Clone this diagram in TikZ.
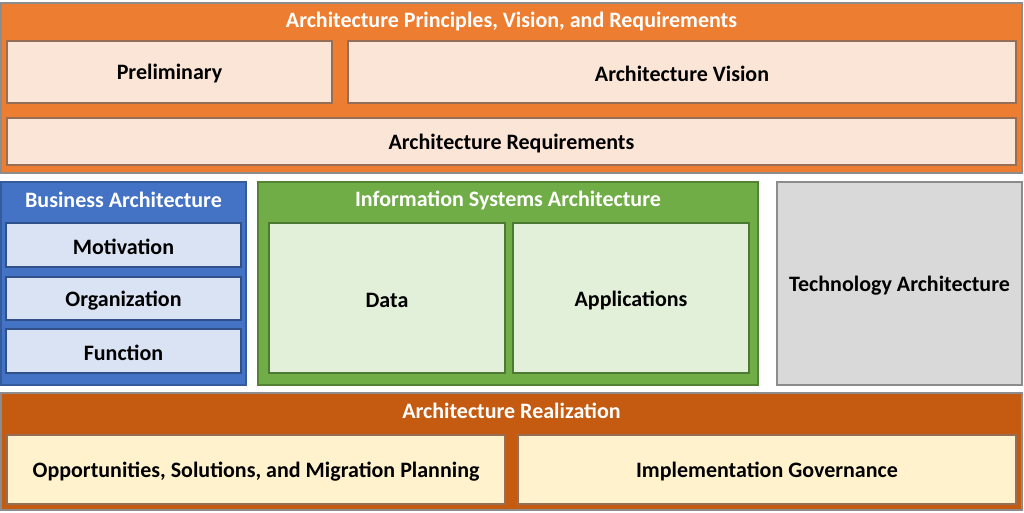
\documentclass[tikz,border=0pt]{standalone}
\usepackage{fontspec}
\setmainfont{Carlito}
\usepackage{tikz}
\definecolor{prinorange}{RGB}{237,125,49}
\definecolor{prinpeach}{RGB}{251,229,214}
\definecolor{bizblue}{RGB}{68,114,196}
\definecolor{bizlight}{RGB}{218,227,243}
\definecolor{isgreen}{RGB}{112,173,71}
\definecolor{islight}{RGB}{226,240,217}
\definecolor{techgray}{RGB}{217,217,217}
\definecolor{realrust}{RGB}{197,90,17}
\definecolor{realcream}{RGB}{255,242,204}
\definecolor{edgegray}{RGB}{140,140,140}
\definecolor{edgebrown}{RGB}{150,110,85}
\tikzset{
  boxtext/.style={font=\fontsize{22}{25}\selectfont\bfseries, yshift=-2pt},
  headtext/.style={font=\fontsize{22}{25}\selectfont\bfseries, text=white},
  outer/.style={line width=1.5pt, draw=edgegray},
  inner/.style={line width=1.2pt, draw=edgebrown}
}

\begin{document}
\begin{tikzpicture}[x=1pt, y=-1pt]
  \useasboundingbox[fill=white] (0,0) rectangle (1024,512);
  % principles, vision, requirements
  \draw[outer, fill=prinorange] (1,3) rectangle (1022,173);
  \node[headtext] (prinhead) at (511.5,22) {Architecture Principles, Vision, and Requirements};
  \draw[inner, fill=prinpeach] (7,41) rectangle (332,103) node[midway, boxtext] (prelim) {Preliminary};
  \draw[inner, fill=prinpeach] (348,41) rectangle (1016,103) node[midway, boxtext] (vision) {Architecture Vision};
  \draw[inner, fill=prinpeach] (7,118) rectangle (1016,165) node[midway, boxtext] (reqs) {Architecture Requirements};
  % business
  \draw[outer, draw=bizblue!80!black, fill=bizblue] (1,182) rectangle (246,385);
  \node[headtext] (bizhead) at (123.5,200) {Business Architecture};
  \draw[line width=1.2pt, draw=bizblue!70!black, fill=bizlight] (6,223) rectangle (241,267) node[midway, boxtext] (motiv) {Motivation};
  \draw[line width=1.2pt, draw=bizblue!70!black, fill=bizlight] (6,277) rectangle (241,320) node[midway, boxtext] (organ) {Organization};
  \draw[line width=1.2pt, draw=bizblue!70!black, fill=bizlight] (6,329) rectangle (241,373) node[midway, boxtext] (func) {Function};
  % information systems
  \draw[outer, draw=isgreen!75!black, fill=isgreen] (258,182) rectangle (758,385);
  \node[headtext] (ishead) at (508,200) {Information Systems Architecture};
  \draw[line width=1.2pt, draw=isgreen!70!black, fill=islight] (269,223) rectangle (505,373) node[midway, boxtext] (data) {Data};
  \draw[line width=1.2pt, draw=isgreen!70!black, fill=islight] (513,223) rectangle (749,373) node[midway, boxtext] (apps) {Applications};
  % technology
  \draw[outer, fill=techgray] (777,182) rectangle (1022,385) node[midway, boxtext] (tech) {Technology Architecture};
  % realization
  \draw[outer, fill=realrust] (1,393) rectangle (1022,510);
  \node[headtext] (realhead) at (511.5,411) {Architecture Realization};
  \draw[inner, fill=realcream] (7,435) rectangle (505,504) node[midway, boxtext] (oppmig) {Opportunities, Solutions, and Migration Planning};
  \draw[inner, fill=realcream] (518,435) rectangle (1016,504) node[midway, boxtext] (implgov) {Implementation Governance};
\end{tikzpicture}
\end{document}
